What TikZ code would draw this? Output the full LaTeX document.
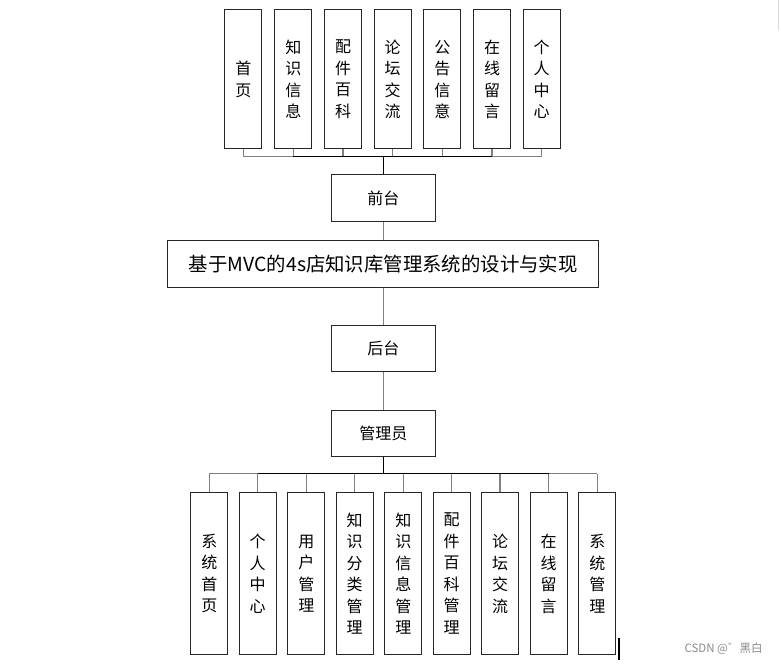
\documentclass[tikz,border=0pt]{standalone}
\usepackage{fontspec}
\setmainfont{Noto Sans CJK SC}
\newfontfamily\cjk{Noto Sans CJK SC}
\begin{document}
\begin{tikzpicture}[x=1pt,y=-1pt,
  box/.style={draw=black!85,line width=1pt,fill=white,inner sep=0pt,anchor=north west,font=\cjk\fontsize{16}{21.5}\selectfont,align=center},
  conn/.style={draw=black!50,line width=1.3pt},
  main/.style={draw=black,line width=1.5pt}]
\useasboundingbox (0,0) rectangle (781,665);
\fill[white] (0,0) rectangle (781,665);
% top boxes
\foreach \n/\x/\t in {1/224.3/{首\\页},2/274.3/{知\\识\\信\\息},3/324/{配\\件\\百\\科},4/373.7/{论\\坛\\交\\流},5/423.3/{公\\告\\信\\意},6/473/{在\\线\\留\\言},7/522.7/{个\\人\\中\\心}}
  \node[box,minimum width=37pt,minimum height=139pt] (t\n) at (\x,9.3) {\t};
% center boxes
\node[box,minimum width=104.3pt,minimum height=47pt] (front) at (330.7,174) {前台};
\node[box,minimum width=431pt,minimum height=46.7pt,font=\cjk\fontsize{19.4}{22}\selectfont] (title) at (167.3,240) {基于MVC的4s店知识库管理系统的设计与实现};
\node[box,minimum width=104.3pt,minimum height=46pt] (back) at (330.7,325.3) {后台};
\node[box,minimum width=104.3pt,minimum height=46pt] (admin) at (330.7,410.3) {管理员};
% bottom boxes
\foreach \n/\x/\t in {1/190.3/{系\\统\\首\\页},2/238.7/{个\\人\\中\\心},3/287.3/{用\\户\\管\\理},4/335.7/{知\\识\\分\\类\\管\\理},5/384.3/{知\\识\\信\\息\\管\\理},6/432.7/{配\\件\\百\\科\\管\\理},7/481/{论\\坛\\交\\流},8/529.7/{在\\线\\留\\言},9/578.3/{系\\统\\管\\理}}
  \node[box,minimum width=37pt,minimum height=161.7pt] (b\n) at (\x,492.3) {\t};
% top bus
\coordinate (tb) at (front.north |- 0,156.7);
\foreach \n in {1,...,7} \draw[conn] (t\n.south) -- (t\n.south |- tb);
\draw[conn] (t1.south |- tb) -- (t7.south |- tb);
\draw[main] (t2.south |- tb) -- (t6.south |- tb);
\draw[main] (tb) -- (front.north);
% spine
\draw[conn] (front.south) -- (title.north -| front.south);
\draw[conn] (title.south -| back.north) -- (back.north);
\draw[conn] (back.south) -- (admin.north);
% bottom bus
\coordinate (bb) at (admin.south |- 0,473.7);
\foreach \n in {1,...,9} \draw[conn] (b\n.north) -- (b\n.north |- bb);
\draw[conn] (b1.north |- bb) -- (b9.north |- bb);
\draw[main] (b2.north |- bb) -- (b8.north |- bb);
\draw[main] (admin.south) -- (bb);
% artefacts
\draw[black,line width=1.6pt] (618.7,638) -- (618.7,660);
\draw[black!15,line width=0.6pt] (778,0) -- (778,30);
\node[text=black!45,font=\cjk\fontsize{11.5}{13}\selectfont,anchor=west] (wm) at (681,648.5) {CSDN @゛黑白};
\end{tikzpicture}
\end{document}
